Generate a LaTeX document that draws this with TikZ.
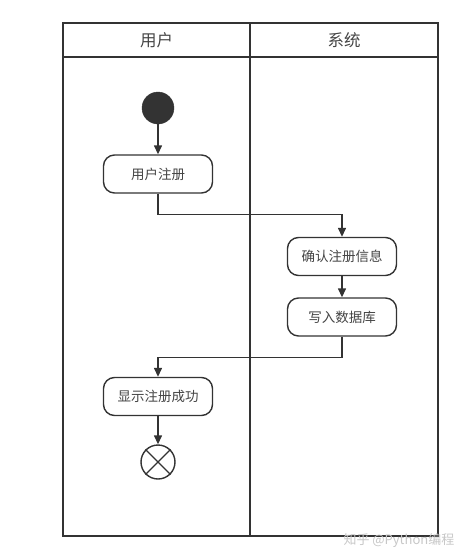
\documentclass[tikz,border=0pt]{standalone}
\usepackage{fontspec}
\setmainfont{Noto Sans CJK SC}
\usetikzlibrary{arrows.meta}
\definecolor{ln}{HTML}{333333}
\definecolor{tx}{HTML}{444444}
\tikzset{
  act/.style={draw=ln, line width=1.4pt, rounded corners=11pt, minimum width=109pt, minimum height=38pt, text=tx, font=\fontsize{13.5pt}{15pt}\selectfont, fill=white},
  flow/.style={draw=ln, line width=1.4pt, -{Triangle[length=9pt,width=8pt]}},
  frame/.style={draw=ln, line width=1.6pt},
  lane/.style={text=tx, font=\fontsize{16.5pt}{18pt}\selectfont}
}
\begin{document}
\begin{tikzpicture}[x=1pt,y=-1pt]
\useasboundingbox (0,0) rectangle (474,555);
\draw[frame] (63,23) rectangle (438,536);
\draw[frame] (63,57) -- (438,57);
\draw[frame] (250,23) -- (250,536);
\node[lane] (lu) at (156.5,40) {用户};
\node[lane] (ls) at (344,40) {系统};
\node[circle, fill=ln, draw=ln, minimum size=32pt, inner sep=0pt] (start) at (158,108) {};
\node[act] (reg) at (158,174) {用户注册};
\node[act] (conf) at (342,256.5) {确认注册信息};
\node[act] (write) at (342,317) {写入数据库};
\node[act] (show) at (158,396.5) {显示注册成功};
\node[circle, draw=ln, line width=1.4pt, fill=white, minimum size=34pt, inner sep=0pt] (end) at (158,462) {};
\draw[draw=ln, line width=1.4pt] (end.north west) -- (end.south east) (end.north east) -- (end.south west);
\draw[flow] (start) -- (reg);
\draw[flow] (reg.south) -- ++(0,21) -| (conf.north);
\draw[flow] (conf) -- (write);
\draw[flow] (write.south) -- ++(0,21) -| (show.north);
\draw[flow] (show) -- (end);
\node[text=black!22, font=\fontsize{13pt}{15pt}\selectfont, anchor=west] (wm) at (340,541) {知乎 @Python编程};
\end{tikzpicture}
\end{document}
